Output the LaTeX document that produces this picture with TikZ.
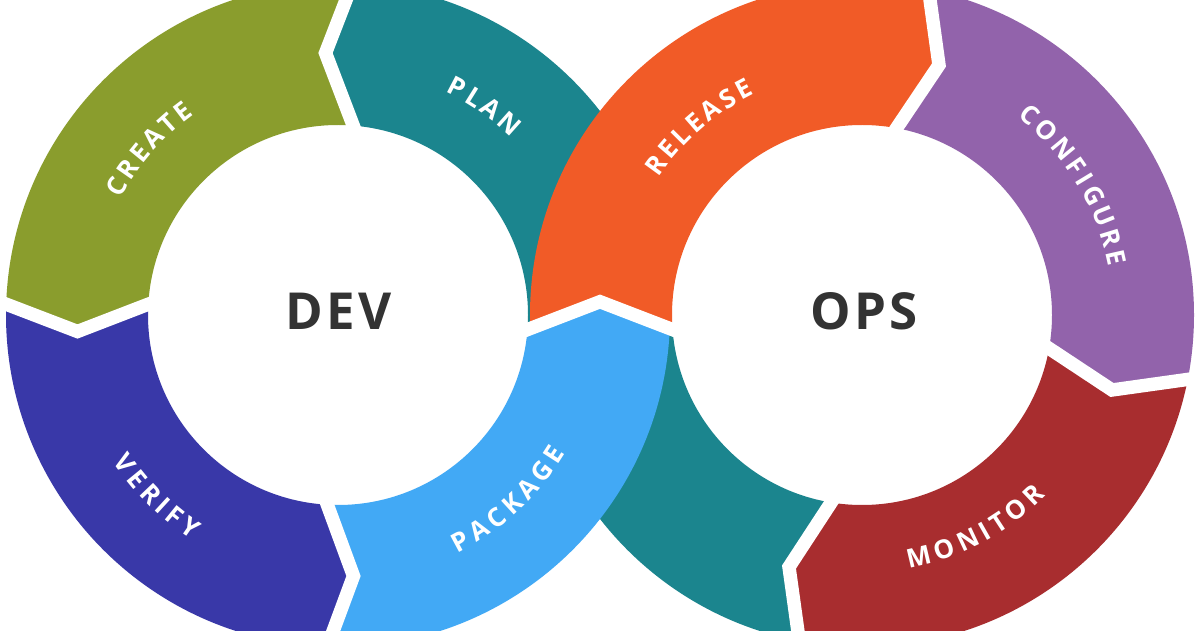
\documentclass[tikz,border=0pt]{standalone}
\usepackage{fontspec}
\usetikzlibrary{calc}
\newfontfamily\osans{Open Sans}
\newfontfamily\osansls[LetterSpace=6]{Open Sans}
\definecolor{cCreate}{HTML}{8A9D2D}
\definecolor{cPlan}{HTML}{1B858E}
\definecolor{cVerify}{HTML}{3938A8}
\definecolor{cPackage}{HTML}{42A9F5}
\definecolor{cRelease}{HTML}{F15B27}
\definecolor{cConfigure}{HTML}{9263AB}
\definecolor{cMonitor}{HTML}{A82D2F}
\definecolor{cText}{HTML}{333333}
\newlength\lettw
\newcommand\lblfont{\osans\bfseries\fontsize{26}{26}\selectfont}
\def\lsp{4.2}
\makeatletter
\newcommand\measureletter[1]{%
  \settowidth\lettw{\lblfont #1}%
  \expandafter\xdef\csname lw@#1\endcsname{\strip@pt\lettw}}
\newcommand\letw[1]{\csname lw@#1\endcsname}
\makeatother
\measureletter{A}\measureletter{C}\measureletter{E}\measureletter{F}
\measureletter{G}\measureletter{I}\measureletter{K}\measureletter{L}
\measureletter{M}\measureletter{N}\measureletter{O}\measureletter{P}
\measureletter{R}\measureletter{S}\measureletter{T}\measureletter{U}
\measureletter{V}\measureletter{Y}
% #1 centre, #2 centre angle, #3 radius, #4 dir (1 = top, -1 = bottom), #5 letters, #6 name
\newcommand\arcword[6]{%
  \gdef\totw{0}%
  \foreach \ch [remember=\newtw as \oldtw (initially 0)] in {#5}{%
    \pgfmathsetmacro\newtw{\oldtw+\letw{\ch}+\lsp}%
    \xdef\totw{\newtw}%
  }%
  \pgfmathsetmacro\halfw{(\totw-\lsp)/2}%
  \foreach \ch [count=\ci, remember=\newcum as \oldcum (initially 0)] in {#5}{%
    \pgfmathsetmacro\lwid{\letw{\ch}}%
    \pgfmathsetmacro\lang{#2+(#4)*(\halfw-\oldcum-\lwid/2)/#3*180/pi}%
    \pgfmathsetmacro\lrot{\lang-(#4)*90}%
    \node[lettr, rotate=\lrot] (#6-\ci) at ($(#1)+(\lang:#3pt)$) {\ch};
    \pgfmathsetmacro\newcum{\oldcum+\lwid+\lsp}%
  }%
}
\tikzset{
  lettr/.style={inner sep=0pt, outer sep=0pt, text height=18.6pt, text depth=0pt,
    anchor=center, text=white, font=\lblfont},
  bigtxt/.style={inner sep=0pt, outer sep=0pt, text height=36.4pt, text depth=0pt,
    anchor=center, text=cText, font=\osansls\bfseries\fontsize{51}{51}\selectfont},
  gapline/.style={white, line width=13.4pt, miter limit=10},
}
\begin{document}
\begin{tikzpicture}[x=1pt,y=1pt]
\useasboundingbox (0,0) rectangle (1200,630);
\fill[white] (0,0) rectangle (1200,630);
\coordinate (D) at (338,315);
\coordinate (O) at (862,315);
% chevrons, DEV
\coordinate (a1i2) at (358.5,490.6); \coordinate (a1i) at (353,505); \coordinate (a1t) at (325.5,577);
\coordinate (a1o) at (352.6,647); \coordinate (a1o2) at (358,661);
\coordinate (a2i2) at (163.3,331.3); \coordinate (a2i) at (148.3,325.8); \coordinate (a2t) at (77.5,298.5);
\coordinate (a2o) at (6.2,325.8); \coordinate (a2o2) at (-8.3,331.3);
\coordinate (a3i2) at (322,139.5); \coordinate (a3i) at (327.3,125.3); \coordinate (a3t) at (353.5,54);
\coordinate (a3o) at (327.3,-16.8); \coordinate (a3o2) at (322,-31);
% crossing chevron
\coordinate (b4d2) at (514.8,295.5); \coordinate (b4d) at (529,301); \coordinate (b4t) at (600,328.3);
\coordinate (b4o) at (671,301); \coordinate (b4o2) at (685.2,295.5);
% chevrons, OPS
\coordinate (c5i2) at (888.6,490); \coordinate (c5i) at (897,502.5); \coordinate (c5t) at (939,565);
\coordinate (c5o) at (928.7,639.6); \coordinate (c5o2) at (926.6,654.5);
\coordinate (c6i2) at (1037.6,289.2); \coordinate (c6i) at (1050,281); \coordinate (c6t) at (1112,240);
\coordinate (c6o) at (1187,250.5); \coordinate (c6o2) at (1202,252.6);
\coordinate (c7i2) at (840,141); \coordinate (c7i) at (831.5,128); \coordinate (c7t) at (789,63);
\coordinate (c7o) at (799.3,-11.3); \coordinate (c7o2) at (801.3,-26.2);
% PLAN (DEV part)
\begin{scope}
\clip (D) -- (b4d2) -- (b4d) -- (b4t) -- (b4o) -- (b4o2) -- ($(D)+(-2.5:650pt)$)
  arc[start angle=-2.5, end angle=87, radius=650pt] -- (a1o2) -- (a1o) -- (a1t) -- (a1i) -- (a1i2) -- cycle;
\fill[cPlan, even odd rule] (D) circle[radius=332pt] (D) circle[radius=190pt];
\end{scope}
% PLAN (OPS part)
\begin{scope}
\clip (O) -- (c7i2) -- (c7i) -- (c7t) -- (c7o) -- (c7o2) -- ($(O)+(-100:650pt)$)
  arc[start angle=-100, end angle=-176.8, radius=650pt] -- (b4d2) -- (b4d) -- (b4t) -- (b4o) -- (b4o2) -- cycle;
\fill[cPlan, even odd rule] (O) circle[radius=332pt] (O) circle[radius=190pt];
\end{scope}
% CREATE
\begin{scope}
\clip (D) -- (a1i2) -- (a1i) -- (a1t) -- (a1o) -- (a1o2) -- ($(D)+(87:650pt)$)
  arc[start angle=87, end angle=178, radius=650pt] -- (a2o2) -- (a2o) -- (a2t) -- (a2i) -- (a2i2) -- cycle;
\fill[cCreate, even odd rule] (D) circle[radius=332pt] (D) circle[radius=190pt];
\end{scope}
% VERIFY
\begin{scope}
\clip (D) -- (a2i2) -- (a2i) -- (a2t) -- (a2o) -- (a2o2) -- ($(D)+(178:650pt)$)
  arc[start angle=178, end angle=267, radius=650pt] -- (a3o2) -- (a3o) -- (a3t) -- (a3i) -- (a3i2) -- cycle;
\fill[cVerify, even odd rule] (D) circle[radius=332pt] (D) circle[radius=190pt];
\end{scope}
% PACKAGE
\begin{scope}
\clip (D) -- (a3i2) -- (a3i) -- (a3t) -- (a3o) -- (a3o2) -- ($(D)+(267:650pt)$)
  arc[start angle=267, end angle=357.5, radius=650pt] -- (b4o2) -- (b4o) -- (b4t) -- (b4d) -- (b4d2) -- cycle;
\fill[cPackage, even odd rule] (D) circle[radius=332pt] (D) circle[radius=190pt];
\end{scope}
% RELEASE
\begin{scope}
\clip (O) -- (b4o2) -- (b4o) -- (b4t) -- (b4d) -- (b4d2) -- ($(O)+(183.2:650pt)$)
  arc[start angle=183.2, end angle=79, radius=650pt] -- (c5o2) -- (c5o) -- (c5t) -- (c5i) -- (c5i2) -- cycle;
\fill[cRelease, even odd rule] (O) circle[radius=332pt] (O) circle[radius=190pt];
\end{scope}
% CONFIGURE
\begin{scope}
\clip (O) -- (c5i2) -- (c5i) -- (c5t) -- (c5o) -- (c5o2) -- ($(O)+(79:650pt)$)
  arc[start angle=79, end angle=-10.4, radius=650pt] -- (c6o2) -- (c6o) -- (c6t) -- (c6i) -- (c6i2) -- cycle;
\fill[cConfigure, even odd rule] (O) circle[radius=332pt] (O) circle[radius=190pt];
\end{scope}
% MONITOR
\begin{scope}
\clip (O) -- (c6i2) -- (c6i) -- (c6t) -- (c6o) -- (c6o2) -- ($(O)+(-10.4:650pt)$)
  arc[start angle=-10.4, end angle=-100, radius=650pt] -- (c7o2) -- (c7o) -- (c7t) -- (c7i) -- (c7i2) -- cycle;
\fill[cMonitor, even odd rule] (O) circle[radius=332pt] (O) circle[radius=190pt];
\end{scope}
% white gaps
\draw[gapline] (a1i2) -- (a1i) -- (a1t) -- (a1o) -- (a1o2);
\draw[gapline] (a2i2) -- (a2i) -- (a2t) -- (a2o) -- (a2o2);
\draw[gapline] (a3i2) -- (a3i) -- (a3t) -- (a3o) -- (a3o2);
\draw[gapline] (b4d2) -- (b4d) -- (b4t) -- (b4o) -- (b4o2);
\draw[gapline] (c5i2) -- (c5i) -- (c5t) -- (c5o) -- (c5o2);
\draw[gapline] (c6i2) -- (c6i) -- (c6t) -- (c6o) -- (c6o2);
\draw[gapline] (c7i2) -- (c7i) -- (c7t) -- (c7o) -- (c7o2);
% labels
\arcword{D}{138.7}{256}{1}{C,R,E,A,T,E}{create}
\arcword{D}{55}{257}{1}{P,L,A,N}{plan}
\arcword{D}{225}{259}{-1}{V,E,R,I,F,Y}{verify}
\arcword{D}{312.7}{257}{-1}{P,A,C,K,A,G,E}{package}
\arcword{O}{131}{255}{1}{R,E,L,E,A,S,E}{release}
\arcword{O}{31.5}{261}{1}{C,O,N,F,I,G,U,R,E}{configure}
\arcword{O}{298}{248.5}{-1}{M,O,N,I,T,O,R}{monitor}
\node[bigtxt] (dev) at (338.5,319) {DEV};
\node[bigtxt] (ops) at (864,319) {OPS};
\end{tikzpicture}
\end{document}
